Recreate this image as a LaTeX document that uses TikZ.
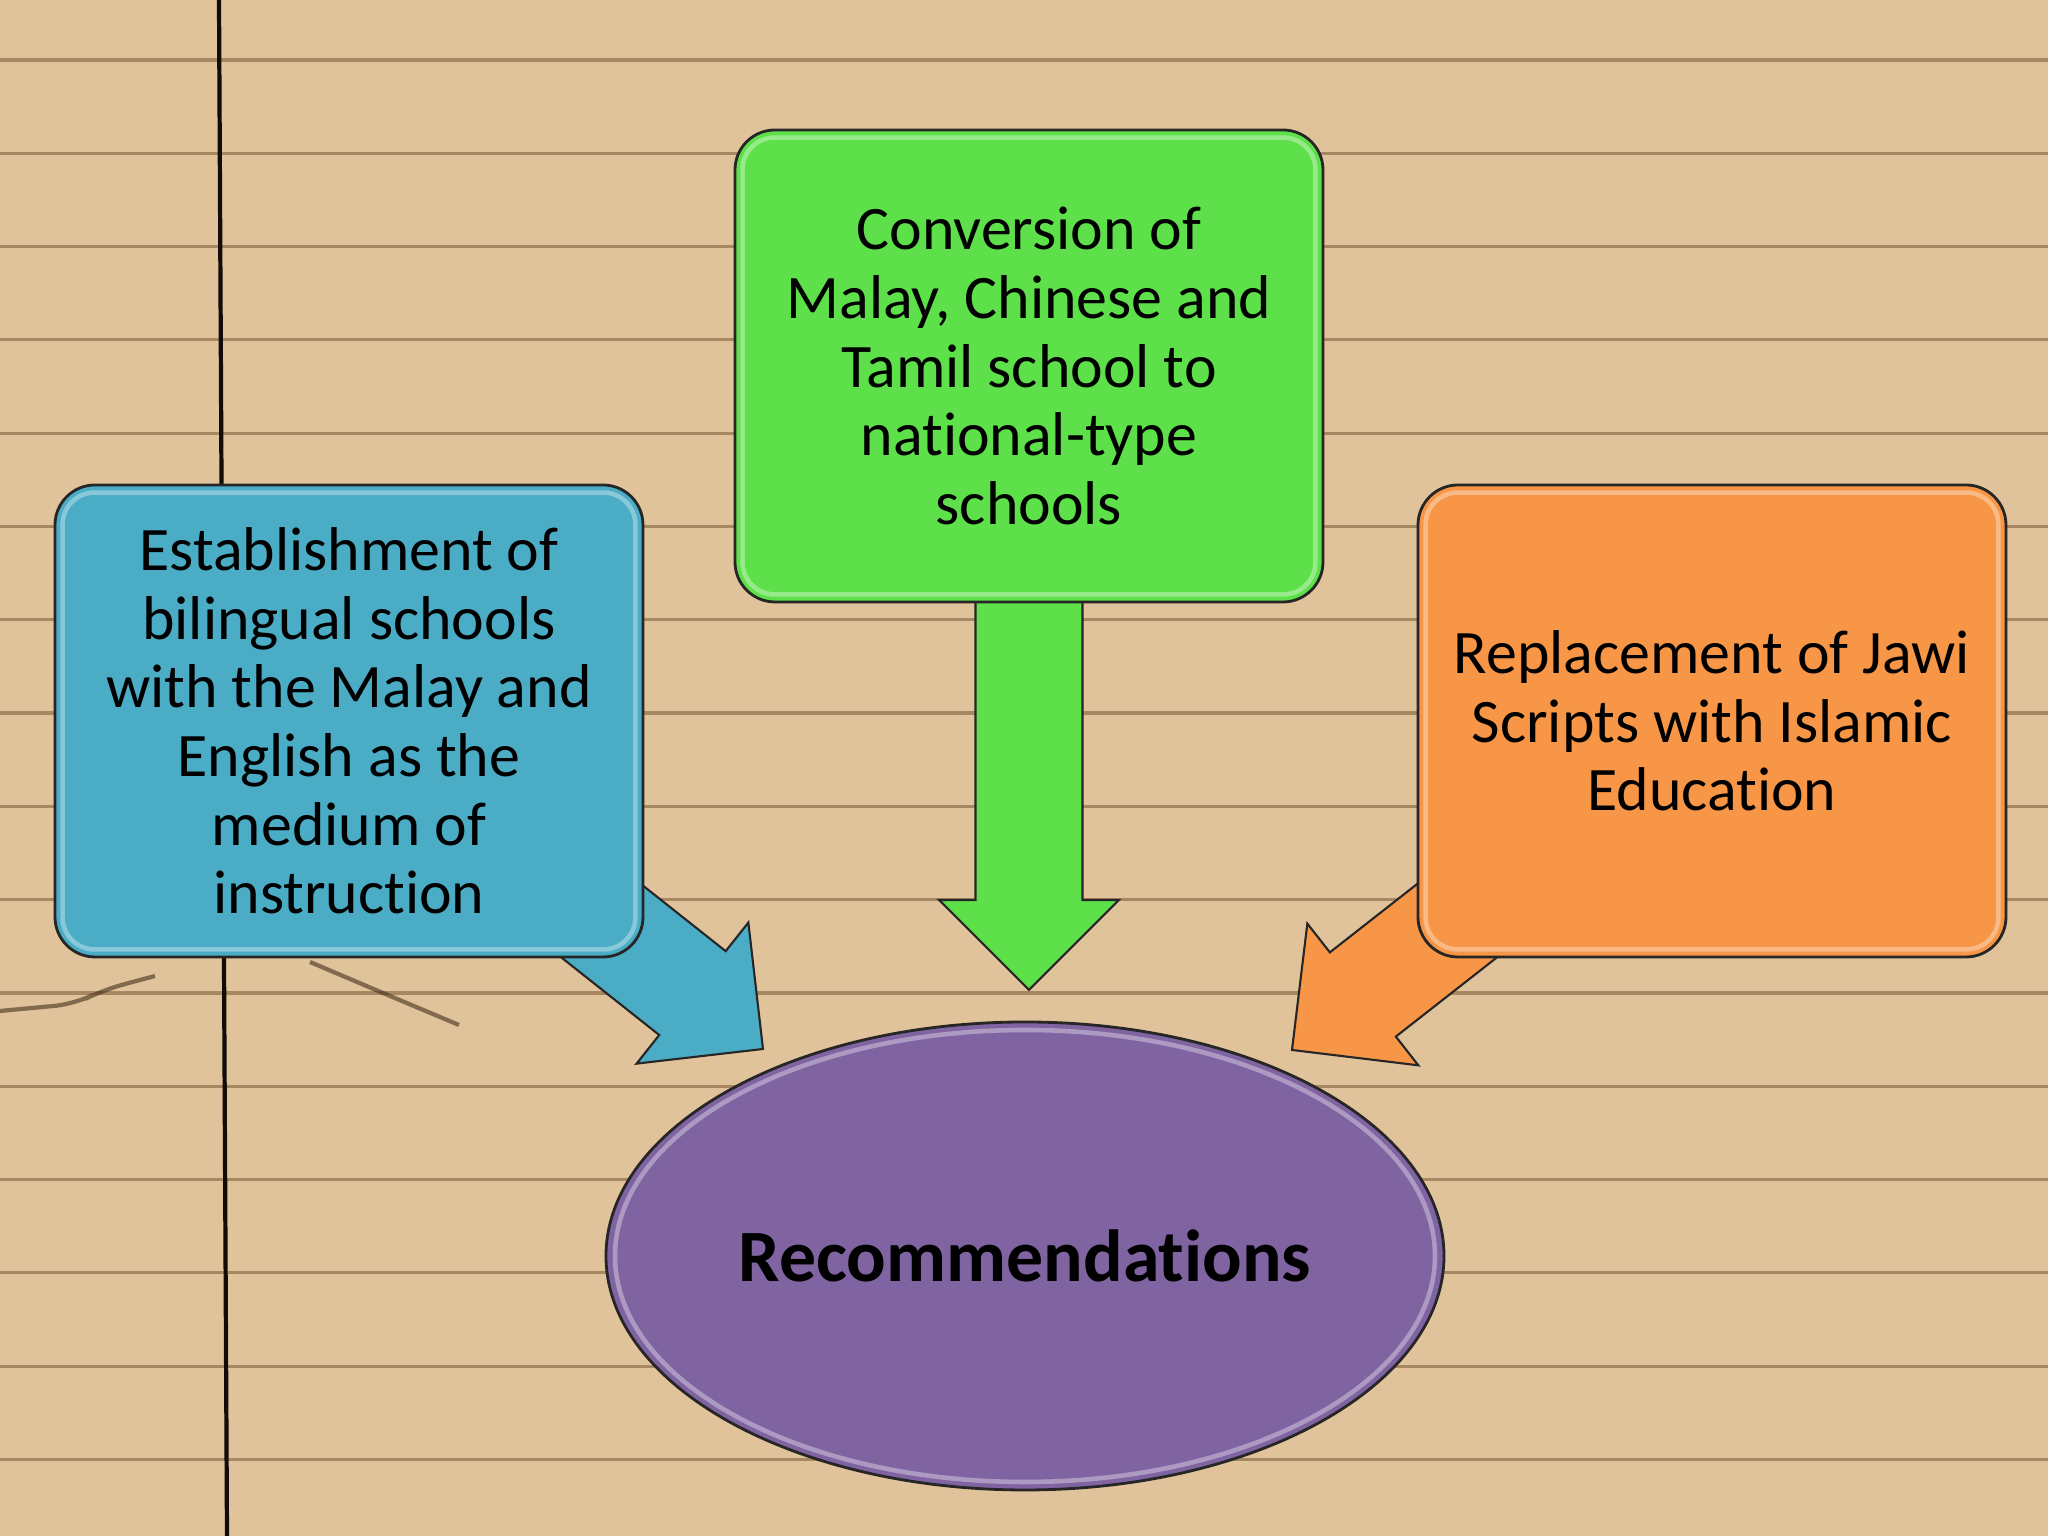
\documentclass[tikz,border=0pt]{standalone}
\usepackage{fontspec}
\setmainfont[Ligatures=NoCommon]{Carlito}
\usetikzlibrary{calc,shapes.geometric}

\definecolor{paper}{RGB}{225,195,155}
\definecolor{rule}{RGB}{110,78,45}
\definecolor{boxblue}{RGB}{75,172,198}
\definecolor{boxgreen}{RGB}{94,224,74}
\definecolor{boxorange}{RGB}{247,150,70}
\definecolor{boxpurple}{RGB}{128,100,162}

\pgfdeclarelayer{paper}
\pgfdeclarelayer{behind}
\pgfsetlayers{paper,behind,main}

\tikzset{
  box/.style={rectangle, rounded corners=0.4cm, draw=black!85, line width=0.8pt,
    minimum width=5.88cm, minimum height=4.72cm, inner sep=0pt, align=center,
    font=\fontsize{17.6}{19.5}\selectfont},
  gloss/.style={white, line width=1.3pt, opacity=0.35},
  arrowbody/.style={draw=black!85, line width=0.6pt},
  ruling/.style={rule, line width=0.9pt, opacity=0.5},
  crack/.style={rule!60!black, line width=1.2pt, opacity=0.6, rounded corners=0.2cm}
}

% block arrow from #1 to #2, fill #3
\newcommand{\blockarrow}[3]{%
  \filldraw[arrowbody, fill=#3]
    let \p1=($(#2)-(#1)$), \n1={atan2(\y1,\x1)} in
    (#2)
    -- ($(#2)+(\n1+180:0.9)+(\n1+90:0.9)$)
    -- ($(#2)+(\n1+180:0.9)+(\n1+90:0.535)$)
    -- ($(#1)+(\n1+90:0.535)$)
    -- ($(#1)+(\n1-90:0.535)$)
    -- ($(#2)+(\n1+180:0.9)+(\n1-90:0.535)$)
    -- ($(#2)+(\n1+180:0.9)+(\n1-90:0.9)$)
    -- cycle;}

\begin{document}
\begin{tikzpicture}
\useasboundingbox (0,0) rectangle (20.48,15.36);

% boxes
\node[box, fill=boxgreen] (green) at (10.29,11.70) {Conversion of\\Malay, Chinese and\\Tamil school to\\national-type\\schools};
\node[box, fill=boxblue] (blue) at (3.49,8.15) {Establishment of\\bilingual schools\\with the Malay and\\English as the\\medium of\\instruction};
\node[box, fill=boxorange] (orange) at (17.12,8.15) {Replacement of Jawi\\Scripts with Islamic\\Education};
\node[ellipse, draw=black!85, line width=0.8pt, fill=boxpurple, minimum width=8.38cm, minimum height=4.68cm, inner sep=0pt] (rec) at (10.25,2.80) {\bfseries\fontsize{21}{24}\selectfont Recommendations};

% highlights
\foreach \n in {green,blue,orange}
  \draw[gloss, rounded corners=0.32cm] ($(\n.south west)+(0.09,0.09)$) rectangle ($(\n.north east)-(0.09,0.09)$);
\draw[gloss] (rec.center) ellipse (4.1cm and 2.26cm);

% arrow tips
\coordinate (gtip) at (10.29,5.46);
\coordinate (btip) at (7.63,4.87);
\coordinate (otip) at (12.92,4.86);

\begin{pgfonlayer}{behind}
\blockarrow{green.center}{gtip}{boxgreen}
\blockarrow{blue.center}{btip}{boxblue}
\blockarrow{orange.center}{otip}{boxorange}
\end{pgfonlayer}

% paper
\begin{pgfonlayer}{paper}
\fill[paper] (0,0) rectangle (20.48,15.36);
\foreach \k in {0,...,15}
  \draw[ruling] (0,14.76-0.933*\k) -- (20.48,14.76-0.933*\k);
\draw[black!85!rule, line width=1.2pt] (2.19,15.36) -- (2.27,0);
\draw[crack] (0,5.25) -- (0.75,5.32) -- (1.03,5.46) -- (1.55,5.60);
\draw[crack] (3.10,5.74) -- (3.9,5.4) -- (4.59,5.11);
\end{pgfonlayer}

\end{tikzpicture}
\end{document}
